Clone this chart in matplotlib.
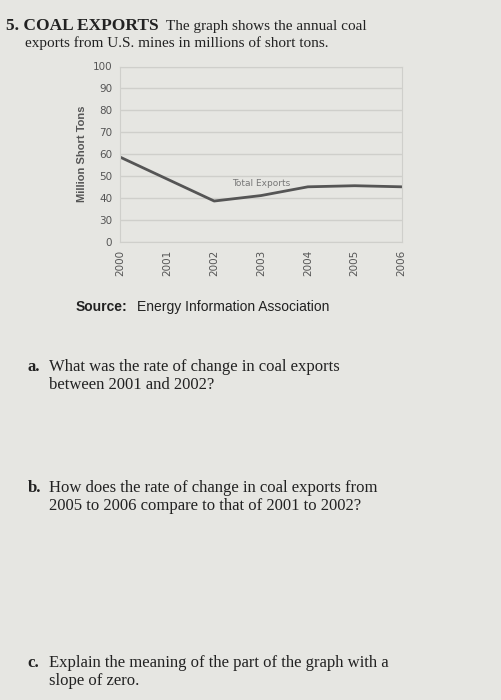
import numpy as np
import matplotlib
matplotlib.use("Agg")
import matplotlib.pyplot as plt

# Coal exports, million short tons
years = [2000, 2001, 2002, 2003, 2004, 2005, 2006]
exports = [58.5, 48.5, 38.5, 41.0, 45.0, 45.5, 45.0]
y_ticks = [0, 30, 40, 50, 60, 70, 80, 90, 100]

# broken axis: 0 then 30..100 evenly spaced
tick_pos = np.arange(len(y_ticks), dtype=float)


def fwd(v):
    return np.interp(v, y_ticks, tick_pos)


def inv(p):
    return np.interp(p, tick_pos, y_ticks)


bg = "#e6e6e2"
fig = plt.figure(figsize=(5.02, 7.0), dpi=100, facecolor=bg)

serif = ["Liberation Serif", "DejaVu Serif"]
sans = ["Liberation Sans", "DejaVu Sans"]

fig.text(0.012, 0.975, "5. COAL EXPORTS", family=serif, fontsize=12.5, weight="bold", color="#222", va="top")
fig.text(0.33, 0.972, "The graph shows the annual coal", family=serif, fontsize=11, color="#222", va="top")
fig.text(0.05, 0.948, "exports from U.S. mines in millions of short tons.", family=serif, fontsize=11, color="#222", va="top")

ax = fig.add_axes([0.24, 0.655, 0.56, 0.25], facecolor=bg)
ax.set_yscale("function", functions=(fwd, inv))
ax.plot(years, exports, color="#555", lw=2)
ax.set_xlim(2000, 2006)
ax.set_ylim(0, 100)
ax.set_yticks(y_ticks)
ax.set_xticks(years)
ax.set_xticklabels([str(y) for y in years], rotation=90)
ax.tick_params(length=0, labelsize=7.5, colors="#555", pad=6)
ax.grid(axis="y", color="#cfcfcb", lw=1)
for s in ax.spines.values():
    s.set_color("#cfcfcb")
ax.set_ylabel("Million Short Tons", fontsize=8, color="#555", weight="bold", family=sans)
ax.text(2003.0, 44.5, "Total Exports", fontsize=6.5, color="#777", ha="center", va="bottom")

fig.text(0.15, 0.555, "Source:", family=sans, fontsize=10, weight="bold", color="#222")
fig.text(0.272, 0.555, "Energy Information Association", family=sans, fontsize=10, color="#222")

qs = [
    (0.487, "a.", "What was the rate of change in coal exports\nbetween 2001 and 2002?"),
    (0.314, "b.", "How does the rate of change in coal exports from\n2005 to 2006 compare to that of 2001 to 2002?"),
    (0.064, "c.", "Explain the meaning of the part of the graph with a\nslope of zero."),
]
for y, lab, txt in qs:
    fig.text(0.055, y, lab, family=serif, fontsize=12, weight="bold", color="#222", va="top")
    fig.text(0.098, y, txt, family=serif, fontsize=12, color="#222", va="top", linespacing=1.15)

fig.savefig("out.png", dpi=100, facecolor=bg)
